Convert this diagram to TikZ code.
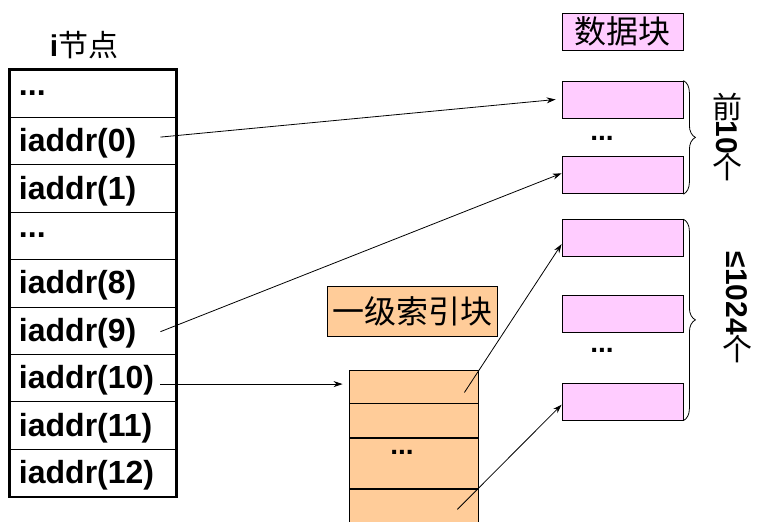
\documentclass[tikz,border=0pt]{standalone}
\usepackage{fontspec}
\setmainfont{Liberation Sans}
\newfontfamily\cjk{Noto Sans CJK SC}
\usetikzlibrary{positioning}
\usetikzlibrary{arrows.meta}
\usetikzlibrary{decorations.pathreplacing}
\definecolor{datapink}{HTML}{FFCCFF}
\definecolor{indexorange}{HTML}{FFCC99}
\newcommand{\threedots}{\textbf{...}}

\begin{document}
\begin{tikzpicture}
	[	x=1pt, y=-1pt,
		row/.style={rectangle,draw=black,line width=0.8pt,minimum height=47.4pt,text width=148pt,inner xsep=9pt,inner ysep=0pt,align=left,text depth=2pt,font=\bfseries\fontsize{32}{36}\selectfont},
		dblock/.style={rectangle,draw=black,line width=0.8pt,fill=datapink,minimum width=121pt,minimum height=37pt,inner sep=0pt},
		iblock/.style={rectangle,draw=black,line width=0.8pt,fill=indexorange,minimum width=129pt,inner sep=0pt},
		vec/.style={-{Stealth[length=9pt,width=6pt]},line width=0.8pt},
		brace/.style={decorate,decoration={brace,amplitude=12pt},line width=0.8pt},
		dots/.style={font=\bfseries\fontsize{28}{30}\selectfont},
		side/.style={font=\fontsize{30}{32}\selectfont,inner sep=0pt}	]
	\useasboundingbox (0,0) rectangle (766,522);
	% i-node table
	\foreach \t [count=\i] in {\threedots,iaddr(0),iaddr(1),\threedots,iaddr(8),iaddr(9),iaddr(10),iaddr(11),iaddr(12)}
		\node[row] (r\i) at (93,{46.3+47.4*\i}) {\t};
	\draw[line width=2.5pt] (r1.north west) rectangle (r9.south east);
	\node[font=\fontsize{30}{32}\selectfont] (title) at (84,45) {\textbf{i}{\cjk 节点}};
	% data blocks
	\node[dblock] (d1) at (622.5,99.5) {};
	\node[dblock] (d2) [below=38pt of d1] {};
	\node[dots] (dots1) at (602,138) {...};
	\node[dblock] (d3) [below=25pt of d2] {};
	\node[dblock] (d4) [below=38pt of d3] {};
	\node[dots] (dots2) at (602,350) {...};
	\node[dblock] (d5) [below=50pt of d4] {};
	\node[dblock,font=\cjk\fontsize{32}{34}\selectfont] (head) [above=30pt of d1] {数据块};
	% index block
	\node[iblock,minimum height=33pt] (i1) at (413.5,386.5) {};
	\node[iblock,minimum height=34pt] (i2) [below=0pt of i1] {};
	\node[iblock,minimum height=50pt] (i3) [below=0pt of i2] {};
	\node[iblock,minimum height=34pt] (i4) [below=0pt of i3] {};
	\node[dots] (dots3) at (402,452) {...};
	\node[iblock,minimum width=170pt,minimum height=50pt,font=\cjk\fontsize{32}{34}\selectfont] (ilabel) at (412,311) {一级索引块};
	% pointers
	\draw[vec] ([xshift=-16pt,yshift=4pt]r2.east) -- ([xshift=-6pt]d1.west);
	\draw[vec] ([xshift=-16pt,yshift=-1pt]r6.east) -- ([yshift=2pt]d2.west);
	\draw[vec,shorten >=6pt] ([xshift=-16pt,yshift=-6pt]r7.east) coordinate (s10) -- (s10 -| i1.west);
	\draw[vec] ([xshift=-14pt,yshift=-6pt]i1.east) -- ([yshift=-6pt]d3.west);
	\draw[vec] ([xshift=-21pt,yshift=-3pt]i4.east) -- ([yshift=-3pt]d5.west);
	% braces
	\draw[brace] (d1.north east) -- (d2.south east);
	\draw[brace] (d3.north east) -- (d5.south east);
	\node[side,rotate=-90] (first) at (727,137) {\rotatebox{90}{\cjk 前}\raisebox{0.14em}{\textbf{10}}\rotatebox{90}{\cjk 个}};
	\node[side,rotate=-90] (upto) at (737,307) {\raisebox{0.14em}{\textbf{≤1024}}\rotatebox{90}{\cjk 个}};
\end{tikzpicture}
\end{document}
